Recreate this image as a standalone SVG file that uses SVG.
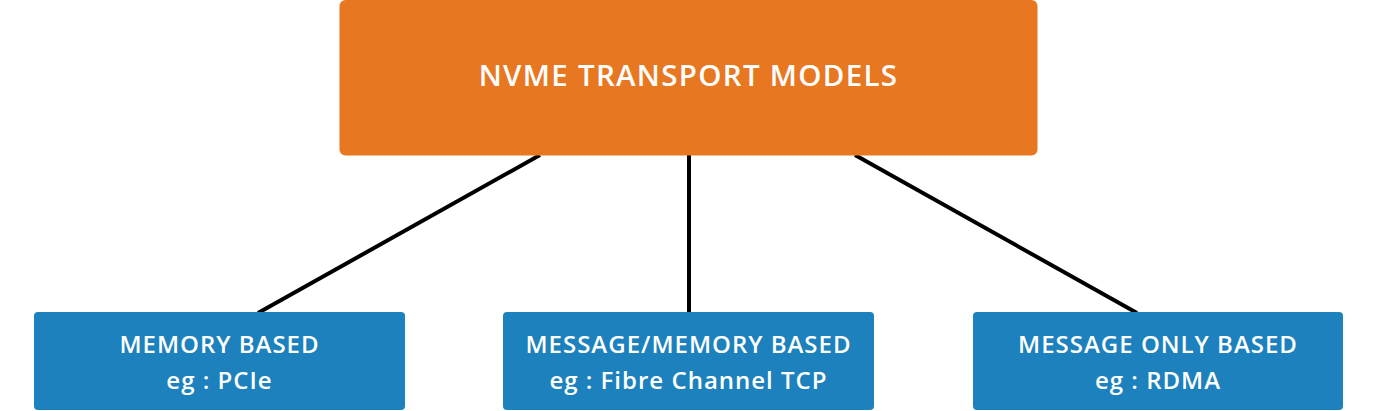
<svg xmlns="http://www.w3.org/2000/svg" width="1378" height="411" viewBox="0 0 1378 411">
<style>
.t{font-family:"Open Sans","Noto Sans","Liberation Sans",sans-serif;fill:#fff;text-anchor:middle;font-weight:600;letter-spacing:1px}
.b{font-size:24px}
.h{font-size:29.5px;letter-spacing:1.3px}
.leaf{fill:#1C81BC}
.c{stroke:#000;stroke-width:4;fill:none}
</style>
<rect width="1378" height="411" fill="#fff"/>
<g id="connectors">
<line class="c" x1="540" y1="155" x2="258" y2="313"/>
<line class="c" x1="689" y1="155" x2="689" y2="313"/>
<line class="c" x1="855" y1="155" x2="1137" y2="313"/>
</g>
<g id="root">
<rect x="339.5" y="0" width="698" height="155.5" rx="6" fill="#E87722"/>
<text class="t h" x="688.5" y="86">NVME TRANSPORT MODELS</text>
</g>
<g id="memory">
<rect class="leaf" x="34" y="312" width="371" height="98" rx="4"/>
<text class="t b" x="219.5" y="353">MEMORY BASED</text>
<text class="t b" x="219.5" y="389">eg : PCIe</text>
</g>
<g id="message-memory">
<rect class="leaf" x="503" y="312" width="371" height="98" rx="4"/>
<text class="t b" x="688.5" y="353">MESSAGE/MEMORY BASED</text>
<text class="t b" x="688.5" y="389">eg : Fibre Channel TCP</text>
</g>
<g id="message-only">
<rect class="leaf" x="973" y="312" width="370" height="98" rx="4"/>
<text class="t b" x="1158" y="353">MESSAGE ONLY BASED</text>
<text class="t b" x="1158" y="389">eg : RDMA</text>
</g>
</svg>
